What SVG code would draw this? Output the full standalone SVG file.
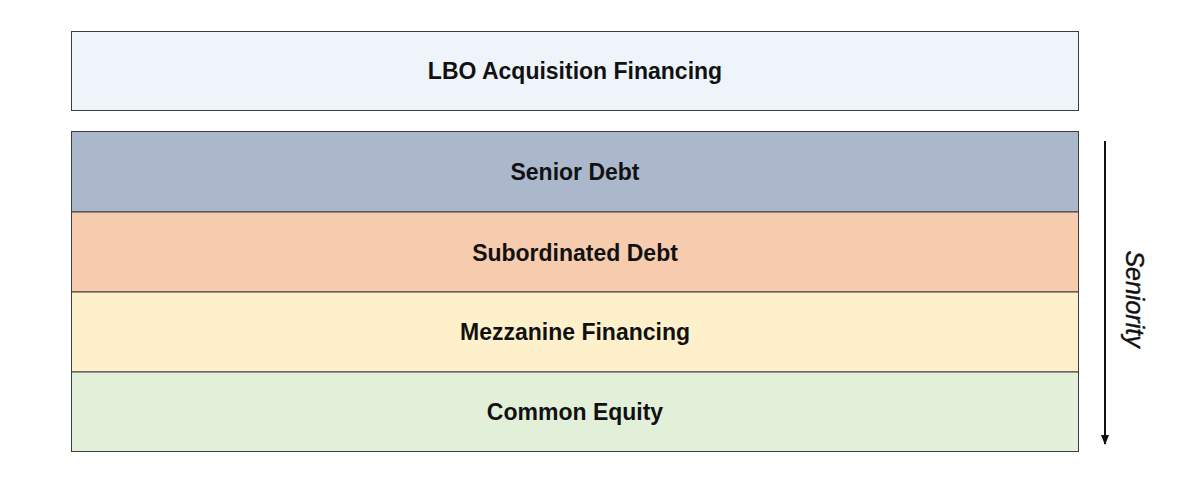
<svg xmlns="http://www.w3.org/2000/svg" width="1200" height="492" viewBox="0 0 1200 492">
<style>
.box{stroke:#3c3c3c;stroke-width:1}
.lbl{font-family:"Liberation Sans",Arial,sans-serif;font-weight:bold;font-size:23px;fill:#111;text-anchor:middle}
.side{font-family:"Liberation Sans",Arial,sans-serif;font-style:italic;font-size:25px;fill:#111;stroke:#111;stroke-width:0.4;text-anchor:middle}
</style>
<defs>
<marker id="ah" viewBox="0 0 10 10" refX="9" refY="5" markerWidth="5" markerHeight="5" orient="auto"><path d="M0,1 L10,5 L0,9 z" fill="#111"/></marker>
</defs>
<rect width="1200" height="492" fill="#fff"/>
<g id="lbo"><rect class="box" x="71.5" y="31.5" width="1007" height="79" fill="#eff4fb"/><text class="lbl" x="575" y="79">LBO Acquisition Financing</text></g>
<g id="senior"><rect class="box" x="71.5" y="131.5" width="1007" height="80.5" fill="#abb8cb"/><text class="lbl" x="575" y="180">Senior Debt</text></g>
<g id="subordinated"><rect class="box" x="71.5" y="212" width="1007" height="80" fill="#f7cbad"/><text class="lbl" x="575" y="261">Subordinated Debt</text></g>
<g id="mezzanine"><rect class="box" x="71.5" y="292" width="1007" height="80" fill="#fff0cc"/><text class="lbl" x="575" y="340">Mezzanine Financing</text></g>
<g id="equity"><rect class="box" x="71.5" y="372" width="1007" height="79.5" fill="#e2efd9"/><text class="lbl" x="575" y="420">Common Equity</text></g>
<g id="connectors"><line x1="1105" y1="141" x2="1105" y2="444" stroke="#111" stroke-width="2" marker-end="url(#ah)"/></g>
<g id="seniority"><text class="side" transform="translate(1126,299) rotate(90)">Seniority</text></g>
</svg>
